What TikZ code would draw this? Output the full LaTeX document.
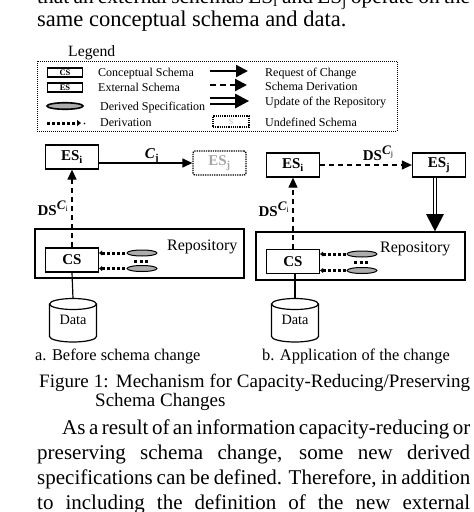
\documentclass[tikz,border=0pt]{standalone}
\usepackage{fontspec}
\setmainfont{Liberation Serif}
\usetikzlibrary{arrows.meta,shapes.geometric}
\begin{document}
\begin{tikzpicture}[x=1pt,y=-1pt,
  txt/.style={inner sep=0pt, anchor=base west},
  body/.style={txt, font=\fontsize{21}{25}\selectfont},
  leg/.style={txt, font=\fontsize{12}{12}\selectfont},
  sch/.style={draw, line width=1.3pt, minimum width=53pt, minimum height=24pt, inner sep=0pt, font=\fontsize{15}{15}\selectfont\bfseries},
  undef/.style={sch, densely dotted, rounded corners=2pt, text=gray!70},
  repo/.style={draw, line width=1.3pt, inner sep=0pt},
  dspec/.style={ellipse, draw, line width=1pt, fill=gray!65, minimum width=30pt, minimum height=6pt, inner sep=0pt},
  deriv/.style={line width=3pt, dash pattern=on 3pt off 2pt},
  threedots/.style={line width=3pt, dash pattern=on 3pt off 2.5pt},
  dsarrow/.style={line width=1.3pt, dash pattern=on 5pt off 4pt, -{Triangle[length=10pt,width=9pt]}},
  reqarrow/.style={line width=1.3pt, -{Triangle[length=10pt,width=9pt]}},
  lab/.style={inner sep=0pt, font=\fontsize{15}{15}\selectfont\bfseries}
]
\useasboundingbox (0,0) rectangle (474,512);
\fill[white] (0,0) rectangle (474,512);

% --- running text above
\node[txt, font=\fontsize{21.5}{25}\selectfont] (t1) at (37,3.5) {\makebox[433pt][s]{that an external schemas ES\textsubscript{i} and ES\textsubscript{j} operate on the}};
\node[txt, font=\fontsize{22.5}{26}\selectfont] (t2) at (37,26.5) {same conceptual schema and data.};

% --- legend
\node[txt, font=\fontsize{15.7}{16}\selectfont] (legtitle) at (68,56) {Legend};
\node[draw, line width=1pt, densely dotted, minimum width=360pt, minimum height=70pt, inner sep=0pt] (legbox) at (217,96) {};
\node[draw, line width=1.8pt, minimum width=35pt, minimum height=9.5pt, inner sep=0pt, font=\fontsize{8.5}{8.5}\selectfont\bfseries] (lcs) at (65,72.5) {CS};
\node[draw, line width=1.8pt, minimum width=35pt, minimum height=9.5pt, inner sep=0pt, font=\fontsize{8.5}{8.5}\selectfont\bfseries] (les) at (65,87.5) {ES};
\node[dspec, line width=1.6pt, minimum width=36pt, minimum height=6.5pt] (lds) at (65,106) {};
\coordinate (ld1) at (47,123);
\coordinate (ld2) at (81,123);
\draw[deriv, -{Triangle[length=4pt,width=6pt]}] (ld1) -- (ld2);
\fill (84.5,123.5) circle (0.9pt);
\node[leg] (lt1) at (98,76) {Conceptual Schema};
\node[leg] (lt2) at (98,91) {External Schema};
\node[leg] (lt3) at (100,110) {Derived Specification};
\node[leg] (lt4) at (100,126) {Derivation};

\coordinate (la1) at (210,71); \coordinate (lb1) at (248,71);
\draw[line width=2.2pt, -{Triangle[length=12pt,width=12pt]}] (la1) -- (lb1);
\coordinate (la2) at (210,85); \coordinate (lb2) at (247,85);
\draw[line width=2.2pt, dash pattern=on 6pt off 4pt, -{Triangle[length=12pt,width=12pt]}] (la2) -- (lb2);
\coordinate (la3) at (210,98); \coordinate (la4) at (210,104); \coordinate (lb3) at (249,101);
\draw[line width=2.6pt] (la3) -- (237,98);
\draw[line width=2.6pt] (la4) -- (237,104);
\fill (235,93.5) -- (lb3) -- (235,108.5) -- cycle;
\node[draw, line width=1.2pt, densely dotted, minimum width=36pt, minimum height=11pt, inner sep=0pt, text=gray!60, font=\fontsize{8}{8}\selectfont] (lsb) at (231,121.5) {S};
\node[leg] (lt5) at (265,76) {Request of Change};
\node[leg] (lt6) at (265,90) {Schema Derivation};
\node[leg] (lt7) at (265,105) {Update of the Repository};
\node[leg] (lt8) at (265,126) {Undefined Schema};

% --- panel a
\node[repo, minimum width=209pt, minimum height=49pt] (repoa) at (139.5,253.5) {};
\node[txt, font=\fontsize{16}{16}\selectfont] (repla) at (167,250) {Repository};
\node[sch] (esia) at (72,157) {ES\textsubscript{i}};
\node[undef] (esja) at (219.5,163) {ES\textsubscript{j}};
\node[sch] (csa) at (72,260) {CS};
\draw[reqarrow] (esia.east |- esja.west) -- (esja.west);
\node[lab] (cja) at (152,156) {\textit{C}\textsubscript{j}};
\draw[dsarrow] (csa.north) -- (esia.south);
\node[lab, anchor=base east] (dsia) at (68,215) {DS\raisebox{6pt}{\fontsize{13}{13}\selectfont\textit{C}\raisebox{-2pt}{\fontsize{8}{8}\selectfont\mdseries i}}};
\node[dspec] (da1) at (142,253) {};
\node[dspec] (da2) at (142,268.5) {};
\draw[deriv, {Triangle[length=3pt,width=5pt]}-] (csa.east |- da1) -- (da1.west);
\draw[deriv, {Triangle[length=3pt,width=5pt]}-] (csa.east |- da2) -- (da2.west);
\draw[threedots] (134,261) -- (148,261);
% cylinder a
\coordinate (cyla) at (73,298.5);
\draw[line width=1.2pt] (49.5,304) -- (49.5,336.5) arc[start angle=180, end angle=0, x radius=23.5, y radius=5.5] -- (96.5,304);
\draw[line width=1.2pt] (73,304) ellipse[x radius=23.5, y radius=5.5];
\node[inner sep=0pt, font=\fontsize{14.3}{14.3}\selectfont] (dataa) at (73,320) {Data};
\draw[line width=1.2pt] (csa.south) -- (cyla);

% --- panel b
\node[repo, minimum width=209pt, minimum height=48pt] (repob) at (360.5,256) {};
\node[txt, font=\fontsize{16}{16}\selectfont] (replb) at (380,252) {Repository};
\node[sch] (esib) at (293,165) {ES\textsubscript{i}};
\node[sch] (esjb) at (439,165) {ES\textsubscript{j}};
\node[sch] (csb) at (293,261.5) {CS};
\draw[dsarrow] (esib.east) -- (esjb.west);
\node[lab, anchor=base] (dsjb) at (378,160) {DS\raisebox{6pt}{\fontsize{13}{13}\selectfont\textit{C}\raisebox{-2pt}{\fontsize{8}{8}\selectfont\mdseries j}}};
\draw[dsarrow] (csb.north) -- (esib.south);
\node[lab, anchor=base east] (dsib) at (289,216) {DS\raisebox{6pt}{\fontsize{13}{13}\selectfont\textit{C}\raisebox{-2pt}{\fontsize{8}{8}\selectfont\mdseries i}}};
\coordinate (upd) at (435,214);
\draw[line width=1.2pt, double distance=2.4pt] (esjb.south -| upd) -- (upd);
\fill (426,214) -- (444,214) -- (repob.north -| upd) -- cycle;
\node[dspec] (db1) at (362,254) {};
\node[dspec] (db2) at (362,270.5) {};
\draw[deriv, {Triangle[length=3pt,width=5pt]}-] (csb.east |- db1) -- (db1.west);
\draw[deriv, {Triangle[length=3pt,width=5pt]}-] (csb.east |- db2) -- (db2.west);
\draw[threedots] (354,262.5) -- (368,262.5);
\coordinate (cylb) at (295,298.5);
\draw[line width=1.2pt] (271.5,304) -- (271.5,336.5) arc[start angle=180, end angle=0, x radius=23.5, y radius=5.5] -- (318.5,304);
\draw[line width=1.2pt] (295,304) ellipse[x radius=23.5, y radius=5.5];
\node[inner sep=0pt, font=\fontsize{14.3}{14.3}\selectfont] (datab) at (295,320) {Data};
\draw[line width=1.2pt] (csb.south -| cylb) -- (cylb);

% --- captions
\node[txt, font=\fontsize{16.4}{18}\selectfont] (capa) at (35,360) {a. Before schema change};
\node[txt, font=\fontsize{16.4}{18}\selectfont] (capb) at (262,360) {b. Application of the change};
\node[txt, font=\fontsize{19}{20}\selectfont] (fig1) at (39,387) {\makebox[431pt][s]{Figure 1: Mechanism for Capacity-Reducing/Preserving}};
\node[txt, font=\fontsize{19}{20}\selectfont] (fig2) at (95,406) {Schema Changes};

% --- running text below
\node[body] (b1) at (62,434) {\makebox[408pt][s]{As a result of an information capacity-reducing or}};
\node[body] (b2) at (37,459) {\makebox[433pt][s]{preserving schema change, some new derived}};
\node[body] (b3) at (37,484) {\makebox[433pt][s]{specifications can be defined. Therefore, in addition}};
\node[body] (b4) at (37,509) {\makebox[433pt][s]{to including the definition of the new external}};
\end{tikzpicture}
\end{document}
